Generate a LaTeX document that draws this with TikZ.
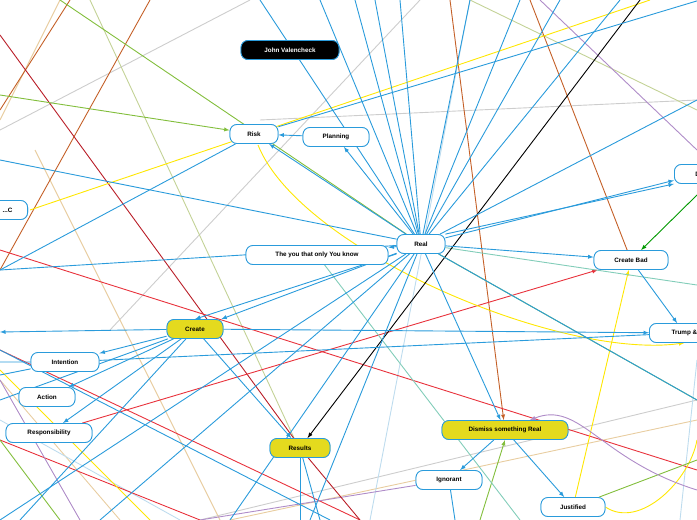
\documentclass[tikz,border=0pt]{standalone}
\usepackage{fontspec}
\setmainfont{Liberation Sans}
\begin{document}
\begin{tikzpicture}[x=1pt,y=-1pt,
  bx/.style={draw=blue1,line width=0.8pt,rounded corners=7pt,fill=white,minimum height=19pt,font=\bfseries\fontsize{6.3}{7}\selectfont,inner sep=2pt},
  yb/.style={bx,fill=yel},
  bl/.style={draw=blue1,line width=0.9pt},
  ar/.style={-latex},
  ln/.style={line width=0.9pt}]
\definecolor{blue1}{RGB}{42,155,219}
\definecolor{yel}{RGB}{228,218,30}
\definecolor{brn}{RGB}{196,96,40}
\definecolor{grn}{RGB}{130,190,60}
\definecolor{teal1}{RGB}{130,205,185}
\definecolor{lgray}{RGB}{205,205,205}
\definecolor{tan1}{RGB}{232,205,160}
\definecolor{purp}{RGB}{175,140,200}
\definecolor{lblue}{RGB}{190,220,238}
\definecolor{red1}{RGB}{232,50,60}
\definecolor{dred}{RGB}{185,30,40}
\definecolor{olive}{RGB}{195,210,150}
\useasboundingbox (0,0) rectangle (697,520);
\clip (0,0) rectangle (697,520);
% nodes
\node[bx,fill=black,text=white,minimum width=98pt] (jv) at (290,50) {John Valencheck};
\node[bx,minimum width=48pt] (risk) at (254,134) {Risk};
\node[bx,minimum width=66pt] (plan) at (336,137) {Planning};
\node[bx,minimum width=48pt] (real) at (421,244) {Real};
\node[bx,minimum width=142pt] (you) at (317,255) {The you that only You know};
\node[bx,minimum width=74pt] (cbad) at (631,260) {Create Bad};
\node[bx,minimum width=50pt,anchor=west] (da) at (674,174) {Da};
\node[bx,minimum width=70pt,anchor=west] (trump) at (649,333) {Trump \&};
\node[bx,minimum width=40pt,anchor=east] (lc) at (28,210) {...C};
\node[yb,minimum width=56pt] (create) at (195,329) {Create};
\node[bx,minimum width=68pt] (int) at (65,362) {Intention};
\node[bx,minimum width=56pt] (act) at (47,397) {Action};
\node[bx,minimum width=86pt] (resp) at (49,433) {Responsibility};
\node[yb,minimum width=60pt] (res) at (300,448) {Results};
\node[yb,minimum width=126pt] (dis) at (505,430) {Dismiss something Real};
\node[bx,minimum width=66pt] (ign) at (449,480) {Ignorant};
\node[bx,minimum width=64pt] (just) at (573,507) {Justified};
\coordinate (L332) at (0,332);
\begin{scope}[on background layer/.try]
\end{scope}
% background connectors (drawn first via pgf layers not needed; nodes redrawn later)
\begin{scope}[ln]
\draw[lgray] (0,130) -- (250,0);
\draw[lgray] (110,330) -- (420,0);
\draw[lgray] (200,520) -- (697,400);
\draw[lgray] (260,120) -- (697,100);
\draw[tan1] (0,120) -- (60,0);
\draw[tan1] (35,150) -- (220,520);
\draw[tan1] (230,520) -- (697,420) ;
\draw[tan1] (0,380) -- (120,520);
\draw[olive] (90,0) -- (295,440);
\draw[olive] (470,0) -- (697,110);
\draw[lblue] (470,0) -- (370,520);
\draw[lblue] (0,420) -- (180,520);
\draw[lblue] (697,360) -- (680,520);
\draw[brn] (0,270) -- (150,0);
\draw[brn] (0,110) -- (70,0);
\draw[brn,ar] (450,0) -- (dis);
\draw[brn] (530,0) -- (cbad);
\draw[dred] (0,35) -- (295,440);
\draw[red1] (0,350) -- (360,520);
\draw[red1] (0,250) -- (697,470);
\draw[red1,ar] (resp) -- (cbad);
\draw[red1] (0,440) -- (200,520);
\draw[yellow!90!orange] (30,210) -- (650,0);
\draw[yellow!90!orange] (0,370) -- (150,520);
\draw[yellow!90!orange,ar] (258,145) .. controls (300,250) and (560,360) .. (trump.south);
\draw[yellow!90!orange,ar] (just) -- (cbad);
\draw[yellow!90!orange] (just.east) .. controls (640,530) and (690,480) .. (697,440);
\draw[grn,ar] (0,95) -- (risk);
\draw[grn] (60,0) -- (real) -- (697,400);
\draw[grn] (0,440) -- (60,520);
\draw[grn,ar] (480,520) -- (dis.south);
\draw[grn] (just) -- (697,460);
\draw[teal1] (real) -- (697,285);
\draw[teal1] (you) -- (520,520);
\draw[purp] (0,380) -- (80,520);
\draw[purp] (ign) -- (200,520);
\draw[purp,ar] (697,490) .. controls (600,460) and (580,400) .. (530,420);
\draw[purp] (540,0) -- (697,150);
\draw[green!60!black,ar] (697,195) -- (cbad);
\draw[black,ar] (640,0) -- (res);
\draw[dred] (res) -- (360,520);
\end{scope}
% blue connectors
\begin{scope}[bl]
\foreach \x in {260,320,355,375,400} \draw (real) -- (\x,0);
\foreach \x in {470,520,560,620} \draw (real) -- (\x,0);
\draw (real) -- (697,100);
\draw (real) -- (0,160);
\draw (real) -- (0,270);
\draw (real) -- (0,520);
\draw (real) -- (100,520);
\draw (real) -- (230,520);
\draw (real) -- (697,400);
\draw[ar] (real) -- (risk);
\draw[ar] (real) -- (plan);
\draw[ar] (real) -- (you);
\draw[ar] (real) -- (cbad);
\draw[ar] (real) -- (da);
\draw[ar] (real.north east) -- (da.south west);
\draw[ar] (real) -- (create);
\draw[ar] (real.south west) -- (create.north);
\draw[ar] (real) -- (dis);
\draw (real) -- (310,520);
\draw[ar] (plan) -- (risk);
\draw (risk) -- (0,270);
\draw (risk) -- (700,0);
\draw[ar] (create) -- (L332);
\draw[ar] (create) -- (int);
\draw[ar] (create) -- (act);
\draw[ar] (create) -- (resp);
\draw (create) -- (0,400);
\draw (create) -- (20,520);
\draw[ar] (create) -- (trump);
\draw (0,362) -- (int) -- (trump);
\draw[ar] (create) -- (res);
\draw (0,350) -- (330,520);
\draw (res) -- (320,520);
\draw (res) -- (300,520);
\draw[ar] (cbad) -- (trump);
\draw[ar] (dis) -- (ign);
\draw[ar] (dis) -- (just);
\draw (ign) -- (455,520);
\draw (int) -- (0,375);
\end{scope}
% redraw nodes on top
\node[bx,fill=black,text=white,minimum width=98pt] at (290,50) {John Valencheck};
\node[bx,minimum width=48pt] at (254,134) {Risk};
\node[bx,minimum width=66pt] at (336,137) {Planning};
\node[bx,minimum width=48pt] at (421,244) {Real};
\node[bx,minimum width=142pt] at (317,255) {The you that only You know};
\node[bx,minimum width=74pt] at (631,260) {Create Bad};
\node[bx,minimum width=50pt,anchor=west] at (674,174) {Da};
\node[bx,minimum width=70pt,anchor=west] at (649,333) {Trump \&};
\node[bx,minimum width=40pt,anchor=east] at (28,210) {...C};
\node[yb,minimum width=56pt] at (195,329) {Create};
\node[bx,minimum width=68pt] at (65,362) {Intention};
\node[bx,minimum width=56pt] at (47,397) {Action};
\node[bx,minimum width=86pt] at (49,433) {Responsibility};
\node[yb,minimum width=60pt] at (300,448) {Results};
\node[yb,minimum width=126pt] at (505,430) {Dismiss something Real};
\node[bx,minimum width=66pt] at (449,480) {Ignorant};
\node[bx,minimum width=64pt] at (573,507) {Justified};
\end{tikzpicture}
\end{document}
